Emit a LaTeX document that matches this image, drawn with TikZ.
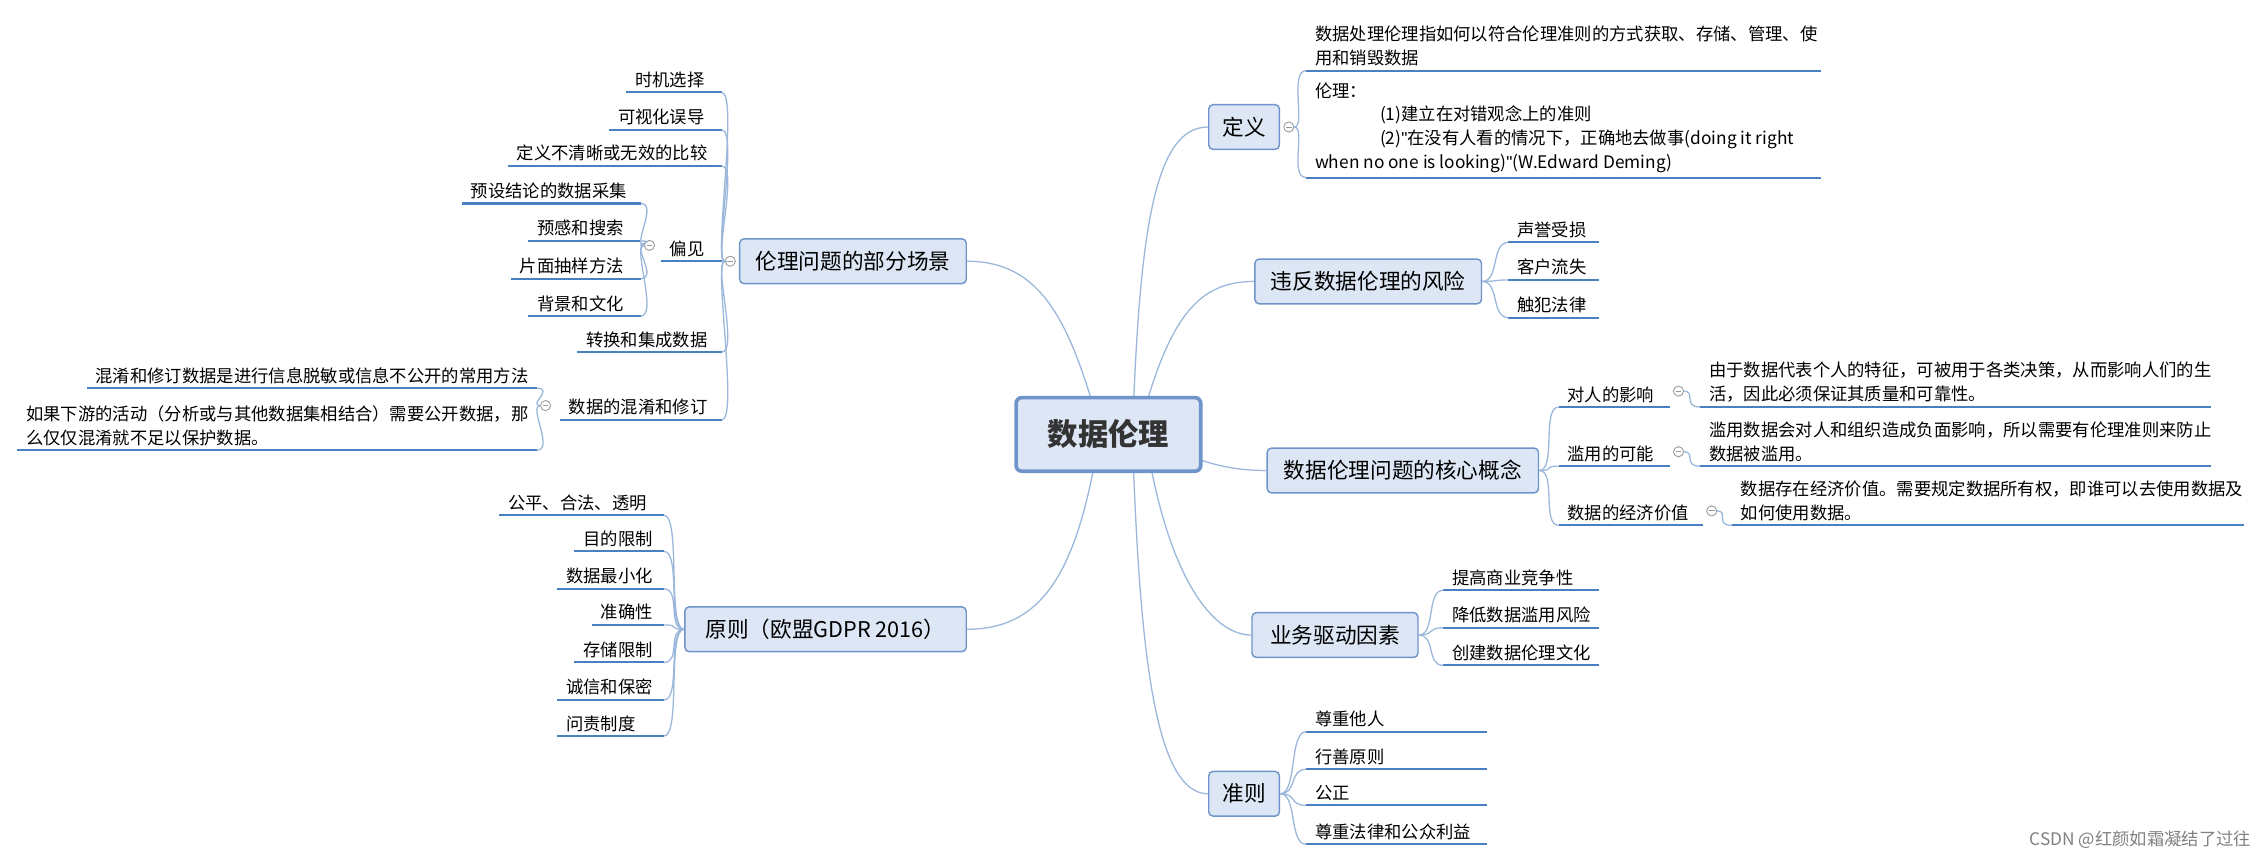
\documentclass[tikz,border=0pt]{standalone}
\usepackage{fontspec}
\setmainfont{Noto Sans CJK SC}
\newfontfamily\lat{Liberation Sans}
\usetikzlibrary{backgrounds,calc}
\definecolor{conn}{HTML}{9BB7DC}
\definecolor{uline}{HTML}{4A7FC1}
\definecolor{boxfill}{HTML}{DCE6F4}
\definecolor{boxdraw}{HTML}{6E94C9}
\tikzset{
  x=1pt,y=-1pt,
  conn/.style={draw=conn,line width=0.9pt},
  ul/.style={draw=uline,line width=1.4pt},
  leaftext/.style={inner sep=0pt,font=\fontsize{12}{16.5}\selectfont,align=left,anchor=south west},
  branch/.style={draw=boxdraw,fill=boxfill,rounded corners=3pt,line width=1pt,font=\fontsize{15}{18}\selectfont,minimum height=31pt,inner sep=0pt},
  tog/.style={circle,draw=gray!80,line width=0.6pt,minimum size=7pt,inner sep=0pt,fill=white,
    path picture={\draw[gray!80,line width=0.6pt] ([xshift=-2pt]path picture bounding box.center)--([xshift=2pt]path picture bounding box.center);}}
}
\newcommand{\leaf}[5]{%
  \coordinate (#1A) at (#2,#4);\coordinate (#1B) at (#3,#4);
  \draw[ul] (#1A)--(#1B);
  \node[leaftext] (#1) at ($(#1A)+(6,-3)$) {#5};}
\newcommand{\rc}[2]{\draw[conn] (#1) .. controls +(12,0) and +(-12,0) .. (#2A);}
\newcommand{\lc}[2]{\draw[conn] (#1) .. controls +(-12,0) and +(12,0) .. (#2B);}
\newcommand{\dq}{{\lat"}}
\begin{document}
\begin{tikzpicture}
\useasboundingbox (0,0) rectangle (1568,597);
% center
\node[draw=boxdraw,fill=boxfill,rounded corners=4pt,line width=2.5pt,minimum width=128pt,minimum height=51pt,font=\fontsize{21}{24}\selectfont\bfseries,text=black!80] (c) at (768,301) {数据伦理};
% right branches
\node[branch,minimum width=49pt] (def) at (862,88) {定义};
\node[branch,minimum width=157pt] (risk) at (948,195) {违反数据伦理的风险};
\node[branch,minimum width=188pt] (core) at (972,326) {数据伦理问题的核心概念};
\node[branch,minimum width=115pt] (biz) at (925,440) {业务驱动因素};
\node[branch,minimum width=49pt] (norm) at (862,550) {准则};
% left branches
\node[branch,minimum width=157pt] (scene) at (591,181) {伦理问题的部分场景};
\node[branch,minimum width=195pt] (gdpr) at (572,436) {原则（欧盟GDPR 2016）};
% central connectors
\begin{scope}[on background layer]
\draw[conn] (785,290) .. controls (790,160) and (800,88) .. (def.west);
\draw[conn] (790,295) .. controls (810,220) and (830,195) .. (risk.west);
\draw[conn] (800,305) .. controls (830,320) and (850,326) .. (core.west);
\draw[conn] (795,310) .. controls (810,400) and (840,440) .. (biz.west);
\draw[conn] (785,315) .. controls (790,450) and (800,550) .. (norm.west);
\draw[conn] (760,290) .. controls (740,220) and (720,181) .. (scene.east);
\draw[conn] (760,312) .. controls (745,400) and (720,436) .. (gdpr.east);
\end{scope}
% definition
\node[tog] (defP) at (893,88) {};
\leaf{d1}{905}{1262}{49}{数据处理伦理指如何以符合伦理准则的方式获取、存储、管理、使\\用和销毁数据}
\leaf{d2}{905}{1262}{123}{伦理：\\\hspace*{45pt}(1)建立在对错观念上的准则\\\hspace*{45pt}(2)\dq 在没有人看的情况下，正确地去做事(doing it right\\when no one is looking)\dq(W.Edward Deming)}
\rc{defP}{d1}\rc{defP}{d2}
% risk
\coordinate (riskP) at (risk.east);
\leaf{r1}{1045}{1108}{168}{声誉受损}
\leaf{r2}{1045}{1108}{194}{客户流失}
\leaf{r3}{1045}{1108}{220}{触犯法律}
\rc{riskP}{r1}\rc{riskP}{r2}\rc{riskP}{r3}
% core
\coordinate (coreP) at (core.east);
\leaf{c1}{1080}{1157}{282}{对人的影响}
\leaf{c2}{1080}{1157}{323}{滥用的可能}
\leaf{c3}{1080}{1180}{364}{数据的经济价值}
\rc{coreP}{c1}\rc{coreP}{c2}\rc{coreP}{c3}
\leaf{c1g}{1178}{1532}{282}{由于数据代表个人的特征，可被用于各类决策，从而影响人们的生\\活，因此必须保证其质量和可靠性。}
\leaf{c2g}{1178}{1532}{323}{滥用数据会对人和组织造成负面影响，所以需要有伦理准则来防止\\数据被滥用。}
\leaf{c3g}{1200}{1555}{364}{数据存在经济价值。需要规定数据所有权，即谁可以去使用数据及\\如何使用数据。}
\node[tog] (c1P) at (1163,271) {};
\node[tog] (c2P) at (1163,313) {};
\node[tog] (c3P) at (1186,354) {};
\rc{c1P}{c1g}\rc{c2P}{c2g}\rc{c3P}{c3g}
% business
\coordinate (bizP) at (biz.east);
\leaf{b1}{1000}{1108}{409}{提高商业竞争性}
\leaf{b2}{1000}{1108}{435}{降低数据滥用风险}
\leaf{b3}{1000}{1108}{461}{创建数据伦理文化}
\rc{bizP}{b1}\rc{bizP}{b2}\rc{bizP}{b3}
% norms
\coordinate (normP) at (norm.east);
\leaf{n1}{905}{1030}{507}{尊重他人}
\leaf{n2}{905}{1030}{533}{行善原则}
\leaf{n3}{905}{1030}{558}{公正}
\leaf{n4}{905}{1030}{585}{尊重法律和公众利益}
\rc{normP}{n1}\rc{normP}{n2}\rc{normP}{n3}\rc{normP}{n4}
% scenes
\node[tog] (sceneP) at (506,181) {};
\leaf{s1}{434}{500}{64}{时机选择}
\leaf{s2}{422}{500}{90}{可视化误导}
\leaf{s3}{352}{500}{115}{定义不清晰或无效的比较}
\leaf{s4}{458}{500}{181}{偏见}
\leaf{s5}{400}{500}{244}{转换和集成数据}
\leaf{s6}{388}{500}{291}{数据的混淆和修订}
\lc{sceneP}{s1}\lc{sceneP}{s2}\lc{sceneP}{s3}\lc{sceneP}{s4}\lc{sceneP}{s5}\lc{sceneP}{s6}
\node[tog] (s4P) at (450,170) {};
\leaf{p1}{320}{444}{141}{预设结论的数据采集}
\leaf{p2}{366}{444}{167}{预感和搜索}
\leaf{p3}{354}{444}{193}{片面抽样方法}
\leaf{p4}{366}{444}{219}{背景和文化}
\lc{s4P}{p1}\lc{s4P}{p2}\lc{s4P}{p3}\lc{s4P}{p4}
\node[tog] (s6P) at (378,281) {};
\leaf{m1}{60}{372}{269}{混淆和修订数据是进行信息脱敏或信息不公开的常用方法}
\leaf{m2}{12}{372}{312}{如果下游的活动（分析或与其他数据集相结合）需要公开数据，那\\么仅仅混淆就不足以保护数据。}
\lc{s6P}{m1}\lc{s6P}{m2}
% gdpr
\coordinate (gdprP) at (gdpr.west);
\leaf{g1}{346}{460}{357}{公平、合法、透明}
\leaf{g2}{398}{460}{382}{目的限制}
\leaf{g3}{386}{460}{408}{数据最小化}
\leaf{g4}{410}{460}{433}{准确性}
\leaf{g5}{398}{460}{459}{存储限制}
\leaf{g6}{386}{460}{485}{诚信和保密}
\leaf{g7}{386}{460}{510}{问责制度}
\lc{gdprP}{g1}\lc{gdprP}{g2}\lc{gdprP}{g3}\lc{gdprP}{g4}\lc{gdprP}{g5}\lc{gdprP}{g6}\lc{gdprP}{g7}
% watermark
\node[anchor=east,inner sep=0pt,text=gray,font=\fontsize{12}{14}\selectfont] (wm) at (1560,582) {CSDN @红颜如霜凝结了过往};
\end{tikzpicture}
\end{document}
